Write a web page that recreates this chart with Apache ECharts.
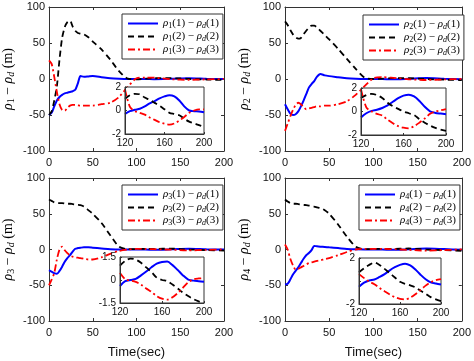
<!DOCTYPE html>
<html><head><meta charset="utf-8">
<script src="https://cdn.jsdelivr.net/npm/echarts@6/dist/echarts.min.js"></script>
<style>html,body{margin:0;padding:0;background:#fff}#c{width:474px;height:361px}</style>
</head><body><div id="c"></div>
<script>
// ---- data ----
const tMain = [0,3,6,9,12,15,18,21,24,27,30,33,36,40,45,50,60,70,80,90,100,110,120,140,160,180,200];
const tInset = [120,125,130,135,140,145,150,155,160,165,170,175,180,185,190,195,200];

// subplot 1
const r1_1 = [-50,-47,-38,-30,-25,-22,-20,-19,-18,-17,-15,-6,4,3,3.5,4,2.5,1,0.3,0,0,0,-0.3,0.35,1.2,0.35,-0.15];
const r1_2 = [-50,-45,-30,-10,27,57,72,79,81,73,67,64,63,62,58,52,41,27,11,0.5,-0.5,0.5,1.0,1.1,0.1,-0.7,-1.4];
const r1_3 = [26,21,3,-18,-35,-43,-44,-40,-37,-36,-36,-36.5,-37,-37,-37,-37,-35,-33,-25,-11,1,2,1.8,-0.35,-1.13,-0.55,0.1];
// subplot 2
const r2_1 = [-35,-42,-48,-50,-49,-45,-38,-30,-21,-12,-7,-3,3,7,5,4,2.5,1,0.3,0,0,0,-0.5,0.3,1.35,0.4,-0.23];
const r2_2 = [80,75,68,62,58,56,57,62,67,71,74,74,72,67,61,55,42,28,14,2,0,0.5,1.15,1.15,0,-0.95,-1.65];
const r2_3 = [-72,-62,-52,-43,-36,-33,-35,-39,-42,-41,-40,-39,-38,-38,-37,-37,-35,-31,-22,-10,1,2.5,1.9,-0.35,-1.38,-0.6,0.2];
// subplot 3
const r3_1 = [-29,-31,-33,-34,-30,-24,-17,-12,-8,-3,1,2,2.5,3,3,2.5,1.5,0.5,0,0,0,0,-0.39,0.3,1.18,0.3,-0.12];
const r3_2 = [70,68,66,65,65,65,64.5,64,64,63.5,63,62.5,62,60,55,50,37,20,4,0.5,0.5,1,0.94,1.12,0,-0.83,-1.5];
const r3_3 = [-50,-42,-33,-14,0,4,-1,-5,-8.5,-10,-11,-11.5,-12,-13,-14,-14,-11,-6,-2,0,1,0.7,0.45,-0.3,-1.22,-0.5,0.12];
// subplot 4
const r4_1 = [-49,-48,-42,-35,-30,-25,-19,-13,-8,-5,-1,5,4.5,4,3.5,3,2,0.8,0.2,0,0,0,-0.5,0.35,1.4,0.55,-0.3];
const r4_2 = [70,67,65,64,64,63.5,63,62.5,62,61.5,61,60,59,58,55,50,35,18,4,0.5,0.5,1,0.75,1.4,-0.07,-0.85,-1.75];
const r4_3 = [7,0,-13,-22,-28,-27,-25,-23,-21,-19,-18,-17,-16,-15,-13.5,-12,-8,-3.5,0,1,1,0.8,0.6,-0.6,-1.55,-0.78,0.16];

// insets (t = 120..200)
const i1_1 = [-0.3,-0.06,0.06,0.15,0.35,0.6,0.8,1.03,1.2,1.3,1.2,0.85,0.35,0.0,-0.06,-0.08,-0.15];
const i1_2 = [1.0,1.3,1.42,1.38,1.1,0.9,0.65,0.4,0.1,-0.2,-0.3,-0.4,-0.7,-0.95,-1.1,-1.25,-1.4];
const i1_3 = [1.8,0.3,-0.05,-0.2,-0.35,-0.6,-0.8,-1.0,-1.13,-1.2,-1.1,-0.85,-0.55,-0.2,0.0,0.1,0.1];
const i2_1 = [-0.5,-0.15,0.05,0.15,0.3,0.52,0.83,1.13,1.35,1.43,1.28,0.9,0.4,0.02,-0.12,-0.18,-0.23];
const i2_2 = [1.15,1.4,1.5,1.4,1.15,0.75,0.45,0.22,0.0,-0.15,-0.3,-0.65,-0.95,-1.2,-1.4,-1.55,-1.65];
const i2_3 = [1.9,0.35,0.0,-0.2,-0.35,-0.7,-1.0,-1.25,-1.38,-1.43,-1.25,-0.95,-0.6,-0.2,0.0,0.1,0.2];
const i3_1 = [-0.39,-0.08,0.0,0.07,0.3,0.55,0.83,1.07,1.18,1.2,0.97,0.65,0.3,0.03,-0.04,-0.08,-0.12];
const i3_2 = [0.94,1.25,1.4,1.33,1.12,0.82,0.52,0.15,0.0,-0.07,-0.3,-0.55,-0.83,-1.05,-1.25,-1.4,-1.5];
const i3_3 = [0.45,0.05,-0.03,-0.12,-0.3,-0.55,-0.78,-1.05,-1.22,-1.28,-1.12,-0.85,-0.5,-0.15,0.05,0.1,0.12];
const i4_1 = [-0.5,-0.15,0.05,0.13,0.35,0.6,0.93,1.2,1.4,1.5,1.35,1.0,0.55,0.15,-0.12,-0.22,-0.3];
const i4_2 = [0.75,1.1,1.4,1.6,1.4,1.05,0.67,0.3,-0.07,-0.25,-0.38,-0.55,-0.85,-1.1,-1.4,-1.6,-1.75];
const i4_3 = [0.6,0.25,-0.05,-0.28,-0.6,-0.9,-1.18,-1.41,-1.55,-1.6,-1.45,-1.15,-0.78,-0.4,-0.1,0.07,0.16];

const mainTicksX = [0, 200, 50];
const mainTicksY = [-100, 100, 50];
const insetTicksX = [120, 200, 40];
const insetTicksY = [[-2,2,2],[-2,2,2],[-1.5,1.5,1.5],[-2,2,2]];

const mainSets = [[r1_1,r1_2,r1_3],[r2_1,r2_2,r2_3],[r3_1,r3_2,r3_3],[r4_1,r4_2,r4_3]];
const insetSets = [[i1_1,i1_2,i1_3],[i2_1,i2_2,i2_3],[i3_1,i3_2,i3_3],[i4_1,i4_2,i4_3]];

// ---- layout ----
const mainGrids = [
  {left:44, top:7, width:180, height:144},
  {left:285, top:7, width:180, height:144},
  {left:44, top:178, width:180, height:143},
  {left:285, top:178, width:180, height:143}
];
const insetGrids = [
  {left:125, top:87, width:79, height:47},
  {left:361, top:88, width:85, height:47},
  {left:120, top:257, width:84, height:46},
  {left:359, top:258, width:82, height:46}
];
const legendPos = [{left:122, top:14},{left:363, top:15},{left:122, top:185},{left:359, top:185}];

const COLORS = ['#0000ff', '#000000', '#ff0000'];
const TYPES = ['solid', [6,4], [7,3,2,3]];
const AX = '#333';
const SERIF = 'Liberation Serif';
const SANS = 'Liberation Sans';

const richDefs = (fs) => ({
  i: {fontFamily: SERIF, fontStyle: 'italic', fontSize: fs, lineHeight: fs + 2, verticalAlign: 'middle', color: '#000'},
  n: {fontFamily: SERIF, fontSize: fs, lineHeight: fs + 2, verticalAlign: 'middle', color: '#000'},
  s: {fontFamily: SERIF, fontSize: Math.round(fs * 0.7), lineHeight: fs + 2, verticalAlign: 'bottom', color: '#000'},
  sd: {fontFamily: SERIF, fontStyle: 'italic', fontSize: Math.round(fs * 0.7), lineHeight: fs + 2, verticalAlign: 'bottom', color: '#000'}
});
function mathify(str) {
  let out = '';
  const re = /ρ([0-9d])/g;
  let last = 0, m;
  while ((m = re.exec(str)) !== null) {
    if (m.index > last) out += '{n|' + str.slice(last, m.index) + '}';
    out += '{i|ρ}' + (m[1] === 'd' ? '{sd|d}' : '{s|' + m[1] + '}');
    last = m.index + m[0].length;
  }
  if (last < str.length) out += '{n|' + str.slice(last) + '}';
  return out;
}

const grid = [], xAxis = [], yAxis = [], series = [], legend = [];
for (let k = 0; k < 4; k++) {
  grid.push(Object.assign({show: false}, mainGrids[k]));
}
for (let k = 0; k < 4; k++) {
  grid.push(Object.assign({show: true, backgroundColor: '#fff', borderColor: AX, borderWidth: 1, z: 5}, insetGrids[k]));
}
const tickStyle = {show: true, inside: true, length: 3, lineStyle: {color: AX}};
for (let k = 0; k < 4; k++) {
  xAxis.push({
    type: 'value', gridIndex: k, min: mainTicksX[0], max: mainTicksX[1], interval: mainTicksX[2],
    axisLine: {show: true, onZero: false, lineStyle: {color: AX, width: 1}},
    axisTick: tickStyle, splitLine: {show: false},
    axisLabel: {color: '#111', fontFamily: SANS, fontSize: 11, margin: 6},
    name: k >= 2 ? 'Time(sec)' : '', nameLocation: 'middle', nameGap: 25,
    nameTextStyle: {color: '#111', fontFamily: SANS, fontSize: 13}
  });
}
for (let k = 0; k < 4; k++) {
  xAxis.push({
    type: 'value', gridIndex: k, position: 'top', min: mainTicksX[0], max: mainTicksX[1], interval: mainTicksX[2],
    axisLine: {show: true, onZero: false, lineStyle: {color: AX, width: 1}},
    axisTick: tickStyle, axisLabel: {show: false}, splitLine: {show: false}
  });
}
for (let k = 0; k < 4; k++) {
  xAxis.push({
    type: 'value', gridIndex: 4 + k, min: insetTicksX[0], max: insetTicksX[1], interval: insetTicksX[2], z: 7,
    axisLine: {show: true, onZero: false, lineStyle: {color: AX, width: 1}},
    axisTick: {show: true, inside: true, length: 2, lineStyle: {color: AX}}, splitLine: {show: false},
    axisLabel: {color: '#111', fontFamily: SANS, fontSize: 10, margin: 4}
  });
}
for (let k = 0; k < 4; k++) {
  yAxis.push({
    type: 'value', gridIndex: k, min: mainTicksY[0], max: mainTicksY[1], interval: mainTicksY[2],
    axisLine: {show: true, onZero: false, lineStyle: {color: AX, width: 1}},
    axisTick: tickStyle, splitLine: {show: false},
    axisLabel: {color: '#111', fontFamily: SANS, fontSize: 11, margin: 4},
    name: mathify('ρ' + (k + 1) + ' − ρd (m)'), nameLocation: 'middle', nameGap: 33,
    nameTextStyle: {color: '#222', fontFamily: SERIF, fontSize: 14, rich: richDefs(14)}
  });
}
for (let k = 0; k < 4; k++) {
  yAxis.push({
    type: 'value', gridIndex: k, position: 'right', min: mainTicksY[0], max: mainTicksY[1], interval: mainTicksY[2],
    axisLine: {show: true, onZero: false, lineStyle: {color: AX, width: 1}},
    axisTick: tickStyle, axisLabel: {show: false}, splitLine: {show: false}
  });
}
for (let k = 0; k < 4; k++) {
  const yt = insetTicksY[k];
  yAxis.push({
    type: 'value', gridIndex: 4 + k, min: yt[0], max: yt[1], interval: yt[2], z: 7,
    axisLine: {show: true, onZero: false, lineStyle: {color: AX, width: 1}},
    axisTick: {show: true, inside: true, length: 2, lineStyle: {color: AX}}, splitLine: {show: false},
    axisLabel: {color: '#111', fontFamily: SANS, fontSize: 10, margin: 4,
      formatter: (v) => (k === 3 && v === 0) ? '' : String(v)}
  });
}
for (let k = 0; k < 4; k++) {
  const names = [];
  for (let j = 0; j < 3; j++) {
    const nm = 'ρ' + (k + 1) + '(' + (j + 1) + ') − ρd(' + (j + 1) + ')';
    names.push(nm);
    series.push({
      name: nm, type: 'line', xAxisIndex: k, yAxisIndex: k, symbol: 'none', smooth: 0.25, z: 2,
      lineStyle: {color: COLORS[j], width: j === 0 ? 2 : 1.8, type: TYPES[j]},
      itemStyle: {color: COLORS[j]},
      data: tMain.map((t, i) => [t, mainSets[k][j][i]])
    });
    series.push({
      name: 'inset' + k + '_' + j, type: 'line', xAxisIndex: 8 + k, yAxisIndex: 8 + k, symbol: 'none', smooth: 0.3, z: 6,
      lineStyle: {color: COLORS[j], width: j === 0 ? 2 : 1.8, type: TYPES[j]},
      data: tInset.map((t, i) => [t, insetSets[k][j][i]])
    });
  }
  legend.push(Object.assign({
    orient: 'vertical', data: names, itemWidth: 30, itemHeight: 8, itemGap: 0,
    padding: [3, 4, 3, 5], backgroundColor: '#fff', borderColor: AX, borderWidth: 1,
    selectedMode: false, z: 4,
    itemStyle: {opacity: 0},
    formatter: (n) => mathify(n),
    textStyle: {fontFamily: SERIF, fontSize: 11, lineHeight: 12, color: '#000', rich: richDefs(11)}
  }, legendPos[k]));
}

const chart = echarts.init(document.getElementById('c'), null, {renderer: 'canvas'});
chart.setOption({animation: false, backgroundColor: '#fff', grid, xAxis, yAxis, series, legend});
</script>
</body></html>
